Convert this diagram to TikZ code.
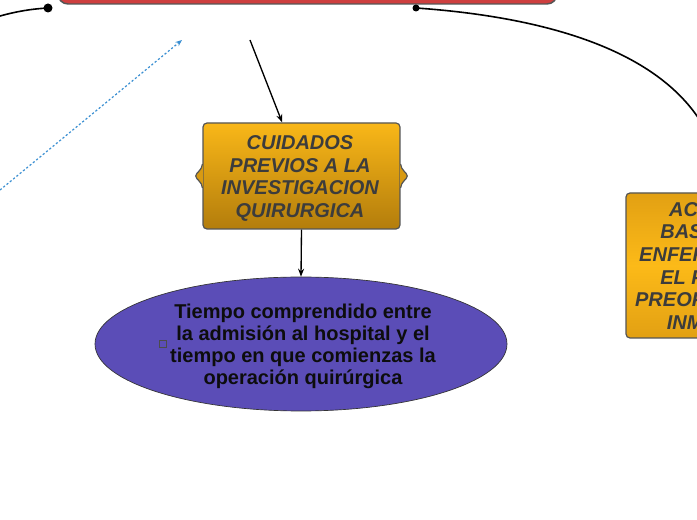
\documentclass[tikz,border=0pt]{standalone}
\usepackage{fontspec}
\setmainfont{Liberation Sans}
\usetikzlibrary{arrows.meta,shapes.geometric,backgrounds}
\definecolor{redbox}{HTML}{CE3F3F}
\definecolor{boxline}{HTML}{555555}
\definecolor{orangetop}{HTML}{F9B718}
\definecolor{orangebot}{HTML}{B37D0C}
\definecolor{orangemid}{HTML}{D89A12}
\definecolor{orangeedge}{HTML}{E2A013}
\definecolor{orangelight}{HTML}{FCBA18}
\definecolor{purplefill}{HTML}{5B4DB7}
\definecolor{textgray}{HTML}{3C3C3C}
\definecolor{dotblue}{HTML}{3A8FD2}
\tikzset{
  rootbox/.style={draw=boxline, line width=1.1pt, fill=redbox, rounded corners=7.5pt,
    minimum width=374.25pt, minimum height=36pt, inner sep=0pt},
  orangebox/.style={draw=boxline, line width=0.9pt, rounded corners=3pt, inner sep=0pt},
  orangetext/.style={text=textgray, font=\fontsize{15}{17}\selectfont\bfseries\itshape,
    align=center, inner sep=0pt},
  ellbox/.style={ellipse, draw=black!80, line width=0.5pt, fill=purplefill, inner sep=0pt,
    minimum width=309pt, minimum height=100.5pt},
  elltext/.style={text=black!95, font=\fontsize{15}{16.6}\selectfont\bfseries,
    align=center, inner sep=0pt},
  conn/.style={line width=1pt, black, -{Stealth[length=6pt,width=4.5pt]}},
  dotlink/.style={line width=1.2pt, black},
  blueconn/.style={line width=0.9pt, dotblue, dash pattern=on 1.6pt off 1.6pt,
    -{Stealth[length=5pt,width=4pt,open]}},
  dot/.style={circle, fill=black, inner sep=0pt, minimum size=6pt},
  tinybox/.style={draw=black!70, fill=purplefill, line width=0.5pt, inner sep=0pt, minimum size=5.5pt}
}
\begin{document}
\begin{tikzpicture}[x=0.75pt,y=-0.75pt]
\useasboundingbox (0,0) rectangle (697,520);
\clip (0,0) rectangle (697,520);
\fill[white] (0,0) rectangle (697,520);

% root box (mostly above the view)
\node[rootbox] (root) at (307.5,-20) {};

% main orange box
\node[orangebox, minimum width=147.75pt, minimum height=79.5pt,
      top color=orangetop, bottom color=orangebot] (cuid) at (301.5,176) {};
% brace-like bumps on the sides
\fill[orangemid] ([xshift=0.6pt,yshift=9pt]cuid.west) -- ([yshift=9pt]cuid.west)
  .. controls +(0,-4.5pt) and +(0,2.5pt) .. ([xshift=-5pt]cuid.west)
  .. controls +(0,-2.5pt) and +(0,4.5pt) .. ([yshift=-9pt]cuid.west)
  -- ([xshift=0.6pt,yshift=-9pt]cuid.west) -- cycle;
\draw[boxline, line width=0.9pt] ([yshift=9pt]cuid.west)
  .. controls +(0,-4.5pt) and +(0,2.5pt) .. ([xshift=-5pt]cuid.west)
  .. controls +(0,-2.5pt) and +(0,4.5pt) .. ([yshift=-9pt]cuid.west);
\fill[orangemid] ([xshift=-0.6pt,yshift=9pt]cuid.east) -- ([yshift=9pt]cuid.east)
  .. controls +(0,-4.5pt) and +(0,2.5pt) .. ([xshift=5pt]cuid.east)
  .. controls +(0,-2.5pt) and +(0,4.5pt) .. ([yshift=-9pt]cuid.east)
  -- ([xshift=-0.6pt,yshift=-9pt]cuid.east) -- cycle;
\draw[boxline, line width=0.9pt] ([yshift=9pt]cuid.east)
  .. controls +(0,-4.5pt) and +(0,2.5pt) .. ([xshift=5pt]cuid.east)
  .. controls +(0,-2.5pt) and +(0,4.5pt) .. ([yshift=-9pt]cuid.east);
\node[orangetext] (cuidtext) at (300,178.5) {CUIDADOS\\PREVIOS A LA\\INVESTIGACION\\QUIRURGICA};

% purple ellipse
\node[ellbox] (ell) at (301,344) {};
\node[elltext] (elltext) at (303,346.5) {Tiempo comprendido entre\\la admisión al hospital y el\\tiempo en que comienzas la\\operación quirúrgica};
\node[tinybox] (icon) at (163,344) {};

% right orange box (partly outside the view)
\node[orangebox, minimum width=145.5pt, minimum height=108.75pt,
      top color=orangeedge, bottom color=orangeedge, middle color=orangelight] (rbox) at (723,265.5) {};
\node[orangetext] (rboxtext) at (722,266) {ACCIONES\\BASICAS DE\\ENFERMERIA EN\\EL PERIODO\\PREOPERATORIO\\INMEDIATO};

% connectors
\coordinate (a1) at (250,40);
\draw[conn] (a1) -- ([xshift=-14.5pt]cuid.north);
\draw[conn] (cuid.south) -- (ell.north);

\coordinate (b0) at (0,190);
\coordinate (b1) at (182,40);
\draw[blueconn] (b0) -- (b1);

\node[dot, minimum size=6.75pt] (d1) at (48,8) {};
\node[dot, minimum size=5.25pt] (d2) at (416,8) {};
\coordinate (offl) at (-10,19);
\draw[dotlink] (d1.center) .. controls (30,9) and (12,12) .. (offl);
\draw[dotlink] (d2.center) .. controls (560,18) and (715,60) .. (rbox.north);
\end{tikzpicture}
\end{document}
